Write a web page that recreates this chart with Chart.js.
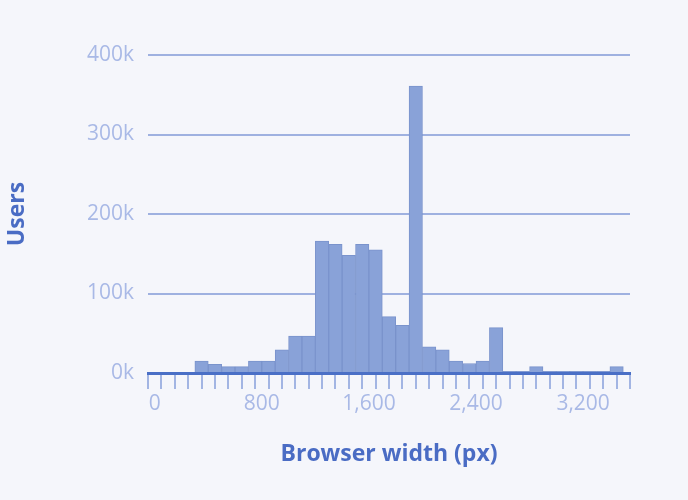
<!DOCTYPE html><html><head><script src="https://cdn.jsdelivr.net/npm/chart.js"></script>
<style>html,body{margin:0;background:#f5f6fb}#w{width:688px;height:500px}</style></head><body><div id="w"><canvas id="c"></canvas></div>
<script>
const binStarts=[0,100,200,300,400,500,600,700,800,900,1000,1100,1200,1300,1400,1500,1600,1700,1800,1900,2000,2100,2200,2300,2400,2500,2600,2700,2800,2900,3000,3100,3200,3300,3400];
const users=[0,0,0,15000,11000,8000,8000,15000,15000,29000,46500,46500,166000,162000,148000,162000,155000,71000,60000,361000,33000,29000,15000,12000,15000,57000,2000,2000,8000,2000,2000,2000,2000,2000,8000];
const yTicks=[0,100000,200000,300000,400000];
const xLabelTicks=[0,800,1600,2400,3200];
const F="'Source Sans Pro','Open Sans',sans-serif";
new Chart(document.getElementById('c'),{type:'bar',
data:{datasets:[{data:binStarts.map((b,i)=>({x:b+50,y:users[i]})),backgroundColor:'#89a2d8',borderColor:'#7a93cc',borderWidth:1,barPercentage:1,categoryPercentage:1,grouped:false}]},
options:{responsive:true,maintainAspectRatio:false,animation:false,
layout:{padding:{top:55,right:58,bottom:28,left:0}},
plugins:{legend:{display:false},tooltip:{enabled:false}},
scales:{
x:{type:'linear',min:0,max:3500,afterFit:s=>{s.height=99},
afterBuildTicks:s=>{s.ticks=binStarts.concat([3500]).map(v=>({value:v}))},
ticks:{autoSkip:false,maxRotation:0,color:'#a9b9e6',font:{family:F,size:21},padding:2,callback:v=>xLabelTicks.includes(v)?v.toLocaleString('en-US'):''},
grid:{drawOnChartArea:false,color:'#a3b5e3',lineWidth:2,tickLength:16},
border:{color:'#4a6fc6',width:3},
title:{display:true,text:'Browser width (px)',color:'#4a6cc4',font:{family:F,size:23,weight:'bold'},padding:{top:8}}},
y:{min:0,max:400000,afterFit:s=>{s.width=148},
afterBuildTicks:s=>{s.ticks=yTicks.map(v=>({value:v}))},
ticks:{color:'#a9b9e6',font:{family:F,size:21},padding:14,callback:v=>(v/1000)+'k'},
grid:{color:'#9fb1e0',lineWidth:2,drawTicks:false},
border:{display:false},
title:{display:true,text:'Users',color:'#4a6cc4',font:{family:F,size:23,weight:'bold'},padding:{bottom:10}}}
}}});
</script></body></html>
